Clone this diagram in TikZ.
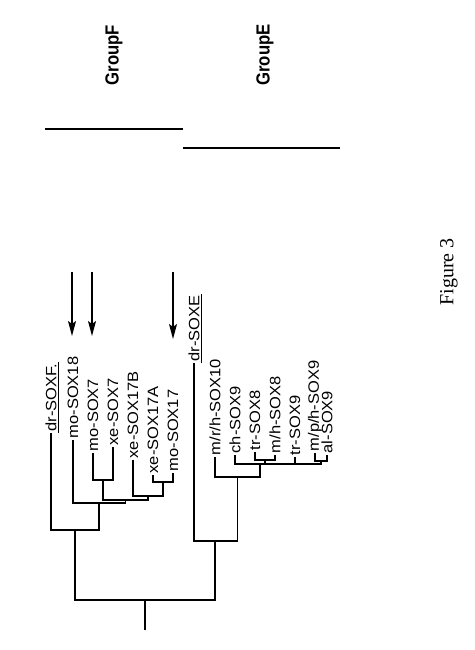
\documentclass[tikz,border=0pt]{standalone}
\usepackage{fontspec}
\setmainfont{Liberation Sans}
\newfontfamily\captionserif{Liberation Serif}
\usetikzlibrary{calc, positioning, arrows.meta}
\newcommand{\taxon}[1]{\scalebox{1.1}[1]{#1}}
\newcommand{\grouplab}[1]{\scalebox{0.88}[1]{#1}}

\begin{document}
\begin{tikzpicture}[x=1pt, y=-1pt,
	branch/.style={line width=1.2pt},
	leaf/.style={rotate=90, anchor=west, inner sep=1.5pt, font=\fontsize{15}{17}\selectfont},
	group/.style={rotate=90, inner sep=0pt, font=\fontsize{19}{21}\selectfont\bfseries},
	pointer/.style={-{Stealth[length=15pt, width=8pt, inset=3pt]}, line width=1.2pt}]
			\useasboundingbox (0,0) rectangle (474,650);
			
			% leaves of group F
			\coordinate (lF1) at (51,433);
			\coordinate (lF2) at (73,440);
			\coordinate (lF3) at (93,453);
			\coordinate (lF4) at (113,447);
			\coordinate (lF5) at (133,460);
			\coordinate (lF6) at (153,475);
			\coordinate (lF7) at (173,473);
			% inner nodes of group F
			\coordinate (nF67) at (163,482);
			\coordinate (nF567) at (148,496);
			\coordinate (nF34) at (103,480);
			\coordinate (nF34567) at (125.5,500);
			\coordinate (nF2) at (99,503);
			\coordinate (nF) at (75,530);
			
			% leaves of group E
			\coordinate (lE1) at (194,363);
			\coordinate (lE2) at (215,457);
			\coordinate (lE3) at (235,455);
			\coordinate (lE4) at (255,452);
			\coordinate (lE5) at (275,455);
			\coordinate (lE6) at (295,457);
			\coordinate (lE7) at (315,453);
			\coordinate (lE8) at (327,455);
			% inner nodes of group E
			\coordinate (nE45) at (265,460);
			\coordinate (nE78) at (321,461);
			\coordinate (nEp) at (260,464);
			\coordinate (nE2) at (237.5,477);
			\coordinate (nE) at (215,541);
			
			\coordinate (root) at (145,600);
			\coordinate (base) at (145,630);
			
			\node[leaf] (tF1) at (lF1) {\taxon{dr-SOXF.}};
			\node[leaf] (tF2) at (lF2) {\taxon{mo-SOX18}};
			\node[leaf] (tF3) at (lF3) {\taxon{mo-SOX7}};
			\node[leaf] (tF4) at (lF4) {\taxon{xe-SOX7}};
			\node[leaf] (tF5) at (lF5) {\taxon{xe-SOX17B}};
			\node[leaf] (tF6) at (lF6) {\taxon{xe-SOX17A}};
			\node[leaf] (tF7) at (lF7) {\taxon{mo-SOX17}};
			
			\node[leaf] (tE1) at (lE1) {\taxon{dr-SOXE}};
			\node[leaf] (tE2) at (lE2) {\taxon{m/r/h-SOX10}};
			\node[leaf] (tE3) at (lE3) {\taxon{ch-SOX9}};
			\node[leaf] (tE4) at (lE4) {\taxon{tr-SOX8}};
			\node[leaf] (tE5) at (lE5) {\taxon{m/h-SOX8}};
			\node[leaf] (tE6) at (lE6) {\taxon{tr-SOX9}};
			\node[leaf] (tE7) at (lE7) {\taxon{m/p/h-SOX9}};
			\node[leaf] (tE8) at (lE8) {\taxon{al-SOX9}};
			
			\draw[branch] (tF1.south west) -- (tF1.south east);
			\draw[branch] (tE1.south west) -- (tE1.south east);
			
			% group F
			\draw[branch] (lF6) |- (nF67) -| (lF7);
			\draw[branch] (lF5) |- (nF567) -| (nF67);
			\draw[branch] (lF3) |- (nF34) -| (lF4);
			\draw[branch] (nF34) |- (nF34567) -| (nF567);
			\draw[branch] (lF2) |- (nF2) -| (nF34567);
			\draw[branch] (lF1) |- (nF) -| (nF2);
			
			% group E
			\draw[branch] (lE4) |- (nE45) -| (lE5);
			\draw[branch] (lE7) |- (nE78) -| (lE8);
			\draw[branch] (lE3) |- (nEp) -| (nE78);
			\draw[branch] (nE45) -- (nE45 |- nEp);
			\draw[branch] (lE6) -- (lE6 |- nEp);
			\draw[branch] (lE2) |- (nE2) -| (nEp);
			\draw[branch] (lE1) |- (nE) -| (nE2);
			
			\draw[branch] (nF) |- (root) -| (nE);
			\draw[branch] (root) -- (base);
			
			% arrows
			\coordinate (aF2) at (72,272);
			\coordinate (hF2) at (72,336);
			\coordinate (aF3) at (92,272);
			\coordinate (hF3) at (92,336);
			\coordinate (aF7) at (173,272);
			\coordinate (hF7) at (173,339);
			\draw[pointer] (aF2) -- (hF2);
			\draw[pointer] (aF3) -- (hF3);
			\draw[pointer] (aF7) -- (hF7);
			
			% group bars
			\node[group] (gF) at (114,55) {\grouplab{GroupF}};
			\node[group] (gE) at (265,55) {\grouplab{GroupE}};
			\coordinate (gF1) at (45,129);
			\coordinate (gF2) at (183,129);
			\coordinate (gE1) at (183,148);
			\coordinate (gE2) at (340,148);
			\draw[branch] (gF1) -- (gF2);
			\draw[branch] (gE1) -- (gE2);
			
			\node[rotate=90, font=\captionserif\fontsize{20}{24}\selectfont] (fig) at (449,272) {Figure 3};
\end{tikzpicture}
\end{document}
